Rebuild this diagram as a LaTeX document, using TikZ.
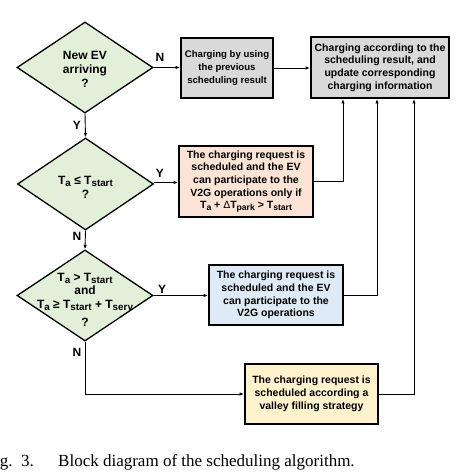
\documentclass[tikz,border=0pt]{standalone}
\usepackage{fontspec}
\usepackage{graphicx}
\setmainfont{Liberation Serif}
\newfontfamily\arialb{Liberation Sans}[BoldFont={Liberation Sans Bold}]
\usetikzlibrary{shapes.geometric,arrows.meta,calc}
\definecolor{cgreen}{HTML}{E2EFD9}
\definecolor{cgray}{HTML}{D9D9D9}
\definecolor{cpeach}{HTML}{FBE4D5}
\definecolor{cblue}{HTML}{DEEBF7}
\definecolor{cyellow}{HTML}{FFF2CC}
\newcommand\mysub[1]{\raisebox{-0.35ex}{\scalebox{0.82}{#1}}}
\begin{document}
\begin{tikzpicture}[x=1pt,y=-1pt,
  dia/.style={shape=diamond,draw,line width=1.3pt,fill=cgreen,inner sep=0pt,minimum width=136pt,minimum height=91pt},
  diatext/.style={align=center,font=\arialb\bfseries\fontsize{12}{14}\selectfont,inner sep=0pt},
  blk/.style={draw,line width=1.9pt,align=center,inner sep=0pt,font=\arialb\bfseries\fontsize{10.5}{12.7}\selectfont},
  arr/.style={line width=0.9pt,-{Latex[length=4.5pt,width=3.5pt]}},
  yn/.style={font=\arialb\bfseries\fontsize{12}{13}\selectfont,inner sep=0pt}]
\useasboundingbox (0,0) rectangle (474,474);
% decisions
\node[dia] (d1) at (85,67.5) {};
\node[diatext] (t1) at ([yshift=-1.5pt]d1) {New EV\\arriving\\?};
\node[dia,minimum height=92pt] (d2) at (85.5,184) {};
\node[diatext] (t2) at ([yshift=-3.5pt]d2) {T\mysub{a} ≤ T\mysub{start}\\?};
\node[dia] (d3) at (85,295.5) {};
\node[diatext,font=\arialb\bfseries\fontsize{12}{13.3}\selectfont] (t3) at ([yshift=-4.5pt]d3) {T\mysub{a} > T\mysub{start}\\and\\T\mysub{a} ≥ T\mysub{start} + T\mysub{serv}\\[5pt]?};
% blocks
\node[blk,fill=cgray,minimum width=92pt,minimum height=60pt,font=\arialb\bfseries\fontsize{9.6}{12.7}\selectfont] (b1) at (227,68) {Charging by using\\the previous\\scheduling result};
\node[blk,fill=cgray,minimum width=138pt,minimum height=61pt] (b2) at (380,67.5) {Charging according to the\\scheduling result, and\\update corresponding\\charging information};
\node[blk,fill=cpeach,minimum width=134pt,minimum height=71pt] (o) at (246,181.5) {The charging request is\\scheduled and the EV\\can participate to the\\V2G operations only if\\T\mysub{a} + {\mdseries Δ}T\mysub{park} > T\mysub{start}};
\node[blk,fill=cblue,minimum width=134pt,minimum height=60pt] (bl) at (276,295) {The charging request is\\scheduled and the EV\\can participate to the\\V2G operations};
\node[blk,fill=cyellow,minimum width=133pt,minimum height=60pt] (ye) at (311.5,394) {The charging request is\\scheduled according a\\valley filling strategy};
% entry points under b2
\coordinate (u1) at ([xshift=-37pt]b2.south);
\coordinate (u2) at ([xshift=-3pt]b2.south);
\coordinate (u3) at ([xshift=34pt]b2.south);
% connectors
\draw[arr] (d1.east) -- (d1.east -| b1.west);
\draw[arr] (b1.east) -- (b1.east -| b2.west);
\draw[arr] (d1.south) -- (d2.north);
\draw[arr] ([yshift=1.5pt]d2.east) -- ([yshift=1.5pt]d2.east -| o.west);
\draw[arr] (d2.south) -- (d3.north);
\draw[arr] (d3.east) -- (d3.east -| bl.west);
\draw[arr] (o.east) -| (u1);
\draw[arr] (bl.east) -| (u2);
\draw[arr] (d3.south) |- (ye.west);
\draw[arr] (ye.east) -| (u3);
% labels
\node[yn] (l1) at (160,57) {N};
\node[yn] (l2) at (77,125) {Y};
\node[yn] (l3) at (160,173) {Y};
\node[yn] (l4) at (77,236) {N};
\node[yn] (l5) at (162,289) {Y};
\node[yn] (l6) at (77,352) {N};
% caption
\node[anchor=base west,inner sep=0pt,font=\fontsize{17}{20}\selectfont] (cap1) at (-14.5,466) {Fig.\ \ 3.};
\node[anchor=base west,inner sep=0pt,font=\fontsize{17}{20}\selectfont] (cap2) at (58,466) {Block diagram of the scheduling algorithm.};
\end{tikzpicture}
\end{document}
